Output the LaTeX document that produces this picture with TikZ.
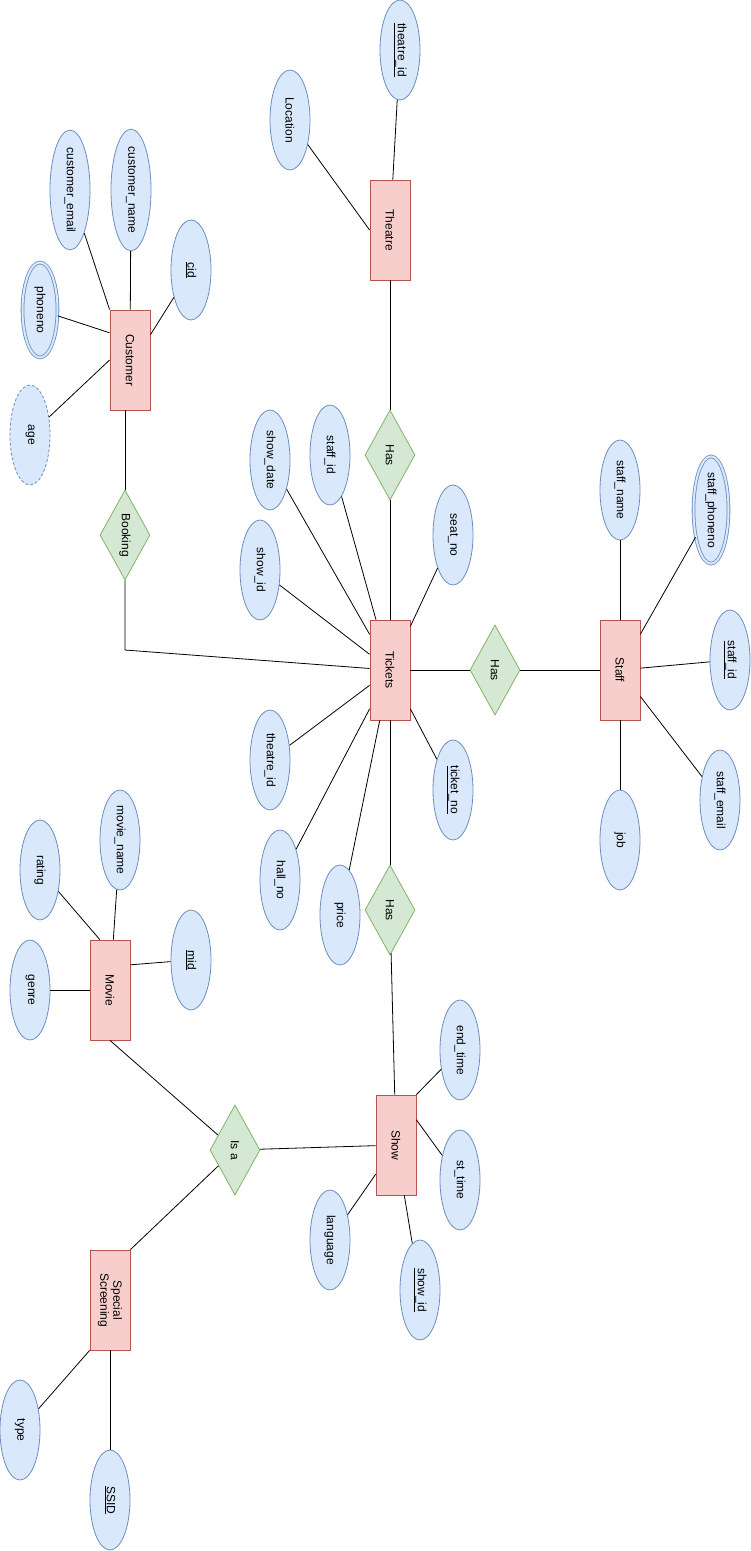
\documentclass[tikz,border=0pt]{standalone}
\usepackage{fontspec}
\setmainfont{Liberation Sans}
\usetikzlibrary{shapes.geometric,calc}
\definecolor{entfill}{HTML}{F8CECC}
\definecolor{entdraw}{HTML}{B85450}
\definecolor{attfill}{HTML}{DAE8FC}
\definecolor{attdraw}{HTML}{6C8EBF}
\definecolor{relfill}{HTML}{D5E8D4}
\definecolor{reldraw}{HTML}{82B366}
\begin{document}
\begin{tikzpicture}[x=1pt,y=1pt,
  every node/.style={font=\fontsize{12}{13}\selectfont, rotate=-90, inner sep=0pt},
  entity/.style={rectangle, draw=entdraw, fill=entfill, line width=0.8pt, minimum width=100pt, minimum height=40pt, align=center},
  attr/.style={ellipse, draw=attdraw, fill=attfill, line width=0.8pt, minimum width=100pt, minimum height=40pt},
  multiattr/.style={attr, minimum width=95pt, minimum height=35pt, double=attfill, double distance=2pt},
  derived/.style={attr, dash pattern=on 3pt off 2pt},
  rel/.style={diamond, draw=reldraw, fill=relfill, line width=0.8pt, minimum width=90pt, minimum height=50pt, aspect=2},
  conn/.style={draw=black, line width=0.8pt}]
\fill[white] (0,0) rectangle (751,-1551);
\useasboundingbox (0,0) rectangle (751,-1551);

% Customer
\node[entity] (customer) at (130,-360) {Customer};
\node[attr] (custname) at (131,-190) {customer\_name};
\node[attr] (custemail) at (70,-190) {customer\_email};
\node[attr] (cid) at (191,-270) {\underline{cid}};
\node[multiattr] (phoneno) at (40,-310) {phoneno};
\node[derived] (age) at (30,-435) {age};
\node[rel] (booking) at (125,-535) {Booking};
\coordinate (bk) at (125,-650);

% Theatre
\node[entity] (theatre) at (390,-230) {Theatre};
\node[attr] (theatreid) at (400,-50) {\underline{theatre\_id}};
\node[attr] (location) at (290,-120) {Location};
\node[rel] (has1) at (390,-455) {Has};

% Tickets
\node[entity] (tickets) at (390,-670) {Tickets};
\node[attr] (tstaffid) at (330,-455) {staff\_id};
\node[attr] (showdate) at (270,-460) {show\_date};
\node[attr] (tshowid) at (260,-570) {show\_id};
\node[attr] (seatno) at (453,-535) {seat\_no};
\node[attr] (ticketno) at (453,-790) {\underline{ticket\_no}};
\node[attr] (ttheatreid) at (270,-760) {theatre\_id};
\node[attr] (hallno) at (280,-880) {hall\_no};
\node[attr] (price) at (340,-915) {price};
\node[rel] (has2) at (495,-670) {Has};

% Staff
\node[entity] (staff) at (620,-670) {Staff};
\node[attr] (staffname) at (620,-490) {staff\_name};
\node[multiattr] (staffphone) at (711,-510) {staff\_phoneno};
\node[attr] (staffid) at (730,-660) {\underline{staff\_id}};
\node[attr] (staffemail) at (720,-800) {staff\_email};
\node[attr] (job) at (620,-840) {job};

% Show
\node[rel] (has3) at (390,-910) {Has};
\node[entity] (show) at (396,-1145) {Show};
\node[attr] (endtime) at (460,-1050) {end\_time};
\node[attr] (sttime) at (460,-1180) {st\_time};
\node[attr] (showid) at (420,-1290) {\underline{show\_id}};
\node[attr] (language) at (330,-1240) {language};
\node[rel] (isa) at (235,-1150) {Is a};

% Movie
\node[entity] (movie) at (110,-990) {Movie};
\node[attr] (moviename) at (120,-840) {movie\_name};
\node[attr] (rating) at (40,-870) {rating};
\node[attr] (genre) at (30,-990) {genre};
\node[attr] (mid) at (191,-960) {\underline{mid}};

% Special Screening
\node[entity] (ss) at (110,-1300) {Special\\Screening};
\node[attr] (typeattr) at (20,-1430) {type};
\node[attr] (ssid) at (110,-1500) {\underline{SSID}};

% Connectors
\draw[conn] (custname) -- (customer);
\draw[conn] (custemail) -- (customer.south west);
\draw[conn] (cid) -- ($(customer.north west)!0.25!(customer.north east)$);
\draw[conn] (phoneno) -- ($(customer.south west)!0.23!(customer.south east)$);
\draw[conn] (age) -- (customer.south);
\draw[conn] (booking) -- (booking |- customer.east);
\draw[conn] (booking) -- (bk) -- (tickets);

\draw[conn] (theatreid) -- (theatre);
\draw[conn] (location) -- (theatre.south);
\draw[conn] (theatre) -- (has1);
\draw[conn] (has1) -- (tickets);

\draw[conn] (tstaffid) -- (tickets);
\draw[conn] (showdate) -- (tickets);
\draw[conn] (tshowid) -- (tickets);
\draw[conn] (seatno) -- (tickets);
\draw[conn] (ticketno) -- (tickets);
\draw[conn] (ttheatreid) -- (tickets);
\draw[conn] (hallno) -- (tickets);
\draw[conn] (price) -- (tickets);
\draw[conn] (tickets) -- (has2);
\draw[conn] (has2) -- (staff);

\draw[conn] (staffname) -- (staff);
\draw[conn] (staffphone) -- (staff);
\draw[conn] (staffid) -- (staff);
\draw[conn] (staffemail) -- (staff);
\draw[conn] (job) -- (staff);

\draw[conn] (tickets) -- (has3);
\draw[conn] (has3) -- (show);
\draw[conn] (endtime) -- (show.north west);
\draw[conn] (sttime) -- ($(show.north west)!0.25!(show.north east)$);
\draw[conn] (showid) -- (show);
\draw[conn] (language) -- (show);
\draw[conn] (isa) -- (show);

\draw[conn] (moviename) -- (movie);
\draw[conn] (rating) -- ($(movie.west)!0.5!(movie.south west)$);
\draw[conn] (genre) -- (movie);
\draw[conn] (mid) -- ($(movie.north west)!0.25!(movie.north east)$);
\draw[conn] (movie.east) -- (isa);
\draw[conn] (isa) -- (ss.north west);
\draw[conn] (ss.south east) -- (typeattr);
\draw[conn] (ss) -- (ssid);
\end{tikzpicture}
\end{document}
